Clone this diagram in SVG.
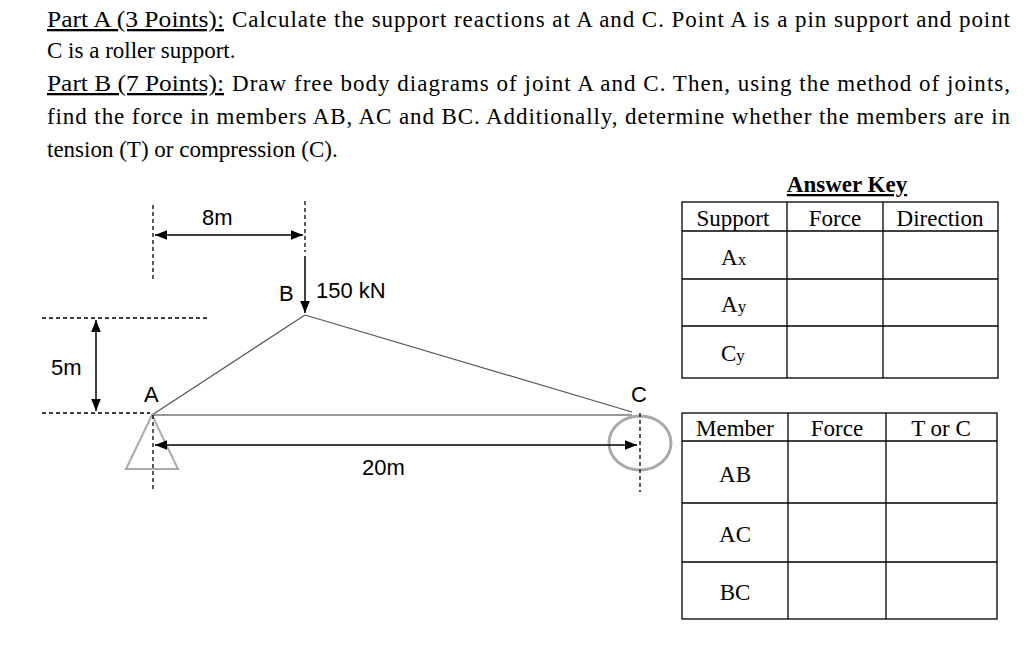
<svg xmlns="http://www.w3.org/2000/svg" width="1036" height="654" viewBox="0 0 1036 654">
<defs>
<style>
.t{font-family:"Liberation Serif",serif;font-size:23px;fill:#000}
.u{text-decoration:underline}
.s{font-family:"Liberation Sans","Open Sans",sans-serif;font-size:22px;fill:#000}
.tb{font-family:"Liberation Serif",serif;font-size:23px;fill:#000}
.g{stroke:#000;stroke-width:1.5;fill:none}
.d{stroke:#000;stroke-width:1.3;stroke-dasharray:4,3;fill:none}
.m{stroke:#555;stroke-width:1.2;fill:none}
</style>
<marker id="ah" viewBox="0 0 10 10" refX="10" refY="5" markerWidth="8" markerHeight="8" orient="auto-start-reverse"><path d="M0,1 L10,5 L0,9 Z" fill="#000"/></marker>
</defs>
<rect width="1036" height="654" fill="#fff"/>
<g id="text">
<text class="t u" x="47" y="27" textLength="177" lengthAdjust="spacingAndGlyphs">Part A (3 Points):</text>
<text class="t" x="232" y="27" textLength="778" lengthAdjust="spacing">Calculate the support reactions at A and C. Point A is a pin support and point</text>
<text class="t" x="47" y="58">C is a roller support.</text>
<text class="t u" x="47" y="91" textLength="177" lengthAdjust="spacingAndGlyphs">Part B (7 Points):</text>
<text class="t" x="232" y="91" textLength="778" lengthAdjust="spacing">Draw free body diagrams of joint A and C. Then, using the method of joints,</text>
<text class="t" x="47" y="124" textLength="963" lengthAdjust="spacing">find the force in members AB, AC and BC. Additionally, determine whether the members are in</text>
<text class="t" x="47" y="157">tension (T) or compression (C).</text>
</g>
<g id="truss">
<line class="m" x1="152" y1="415" x2="305" y2="315"/>
<line class="m" x1="305" y1="315" x2="632" y2="412"/>
<line x1="152" y1="415" x2="632" y2="415" stroke="#999" stroke-width="2"/>
</g>
<g id="supportA"><polygon points="152,415 126,469 178,469" fill="none" stroke="#aaa" stroke-width="2"/></g>
<g id="supportC"><ellipse cx="640" cy="443" rx="31" ry="27" fill="none" stroke="#aaa" stroke-width="3"/></g>
<g id="connectors">
<line class="d" x1="153" y1="205" x2="153" y2="280"/>
<line class="d" x1="305" y1="201" x2="305" y2="252"/>
<line class="g" x1="155" y1="235" x2="303" y2="235" marker-start="url(#ah)" marker-end="url(#ah)"/>
<line class="g" x1="305" y1="256" x2="305" y2="313" marker-end="url(#ah)"/>
<line class="d" x1="42" y1="318" x2="210" y2="318"/>
<line class="d" x1="42" y1="413" x2="150" y2="413"/>
<line class="g" x1="96" y1="320" x2="96" y2="411" stroke="#444" marker-start="url(#ah)" marker-end="url(#ah)"/>
<line class="d" x1="153" y1="415" x2="153" y2="492"/>
<line class="d" x1="640" y1="413" x2="640" y2="492"/>
<line class="g" x1="155" y1="445" x2="637" y2="445" stroke-width="1" marker-start="url(#ah)" marker-end="url(#ah)"/>
</g>
<g id="labels">
<text class="s" x="202" y="225">8m</text>
<text class="s" x="279" y="301">B</text>
<text class="s" x="316" y="298">150 kN</text>
<text class="s" x="51" y="375">5m</text>
<text class="s" x="144" y="402">A</text>
<text class="s" x="631" y="402">C</text>
<text class="s" x="362" y="475">20m</text>
</g>
<g id="table1" fill="none" stroke="#000" stroke-width="1.3">
<text x="847" y="192" text-anchor="middle" style="font-family:'Liberation Serif',serif;font-size:23px;font-weight:bold;text-decoration:underline" fill="#000" stroke="none">Answer Key</text>
<rect x="682" y="202" width="316" height="176"/>
<line x1="682" y1="231" x2="998" y2="231"/><line x1="682" y1="279" x2="998" y2="279"/><line x1="682" y1="326" x2="998" y2="326"/>
<line x1="787" y1="202" x2="787" y2="378"/><line x1="883" y1="202" x2="883" y2="378"/>
<g stroke="none">
<text class="tb" x="733" y="226" text-anchor="middle">Support</text>
<text class="tb" x="835" y="226" text-anchor="middle">Force</text>
<text class="tb" x="940" y="226" text-anchor="middle">Direction</text>
<text class="tb" x="721" y="265">A<tspan font-size="17">x</tspan></text>
<text class="tb" x="721" y="312">A<tspan font-size="17">y</tspan></text>
<text class="tb" x="721" y="361">C<tspan font-size="17">y</tspan></text>
</g>
</g>
<g id="table2" fill="none" stroke="#000" stroke-width="1.3">
<rect x="682" y="413" width="315" height="206"/>
<line x1="682" y1="441" x2="997" y2="441"/><line x1="682" y1="503" x2="997" y2="503"/><line x1="682" y1="562" x2="997" y2="562"/>
<line x1="788" y1="413" x2="788" y2="619"/><line x1="886" y1="413" x2="886" y2="619"/>
<g stroke="none">
<text class="tb" x="735" y="436" text-anchor="middle">Member</text>
<text class="tb" x="837" y="436" text-anchor="middle">Force</text>
<text class="tb" x="941" y="436" text-anchor="middle">T or C</text>
<text class="tb" x="735" y="482" text-anchor="middle">AB</text>
<text class="tb" x="735" y="542" text-anchor="middle">AC</text>
<text class="tb" x="735" y="600" text-anchor="middle">BC</text>
</g>
</g>
</svg>
